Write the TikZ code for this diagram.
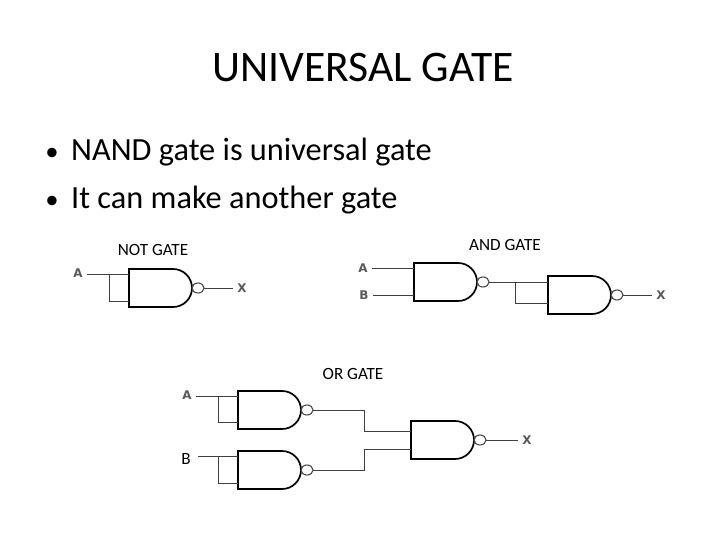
\documentclass[tikz,border=0pt]{standalone}
\usepackage{fontspec}
\setmainfont{Carlito}
\newfontfamily\pinfont{DejaVu Sans}
\usepackage{tikz}
\tikzset{gateline/.style={draw=black,line width=1.2pt},
  wire/.style={draw=black!75,line width=0.7pt},
  pinlabel/.style={font=\pinfont\bfseries\fontsize{8.5}{9}\selectfont,text=black!65,inner sep=3pt},
  gatelabel/.style={font=\fontsize{12.2}{14}\selectfont,inner sep=0pt},
  bulletline/.style={anchor=base west,font=\fontsize{23}{26}\selectfont,inner sep=0pt},
  pics/nandgate/.style 2 args={code={
    \draw[gateline] (44,-19) -- (0,-19) -- (0,19) -- (44,19) arc[start angle=-90,end angle=90,radius=0.475cm];
    \draw[draw=black!70,line width=0.8pt] (69,0) ellipse[x radius=0.15cm,y radius=0.125cm];
    \coordinate (-in1) at (0,#1);
    \coordinate (-in2) at (0,#2);
    \coordinate (-out) at (75,0);
  }}}

\begin{document}
\begin{tikzpicture}[x=0.025cm,y=-0.025cm]
\useasboundingbox (0,0) rectangle (728,546);

\node[font=\fontsize{31}{36}\selectfont,inner sep=0pt] (title) at (363,68) {UNIVERSAL GATE};
\node[bulletline] (bulleta) at (45,160) {{\fontsize{19}{22}\selectfont•}\hspace{0.39em}NAND gate is universal gate};
\node[bulletline] (bulletb) at (45,208) {{\fontsize{19}{22}\selectfont•}\hspace{0.39em}It can make another gate};

% not gate
\node[gatelabel] (notlabel) at (153,250) {NOT GATE};
\pic (notg) at (129,288) {nandgate={-14}{13}};
\node[pinlabel] (nota) at (78,273) {A};
\node[pinlabel] (notx) at (242,288) {X};
\coordinate (notfork) at (109,274);
\draw[wire] (nota.east |- notg-in1) -- (notg-in1);
\draw[wire] (notfork) |- (notg-in2);
\draw[wire] (notg-out) -- (notx.west |- notg-out);

% and gate
\node[gatelabel] (andlabel) at (505,245) {AND GATE};
\pic (andg) at (414,282) {nandgate={-14}{13}};
\pic (andh) at (548,295) {nandgate={-13}{8}};
\node[pinlabel] (anda) at (363,268) {A};
\node[pinlabel] (andb) at (364,295) {B};
\node[pinlabel] (andx) at (661,295) {X};
\coordinate (andfork) at (515,282);
\draw[wire] (anda.east |- andg-in1) -- (andg-in1);
\draw[wire] (andb.east |- andg-in2) -- (andg-in2);
\draw[wire] (andg-out) -- (andh-in1);
\draw[wire] (andfork) |- (andh-in2);
\draw[wire] (andh-out) -- (andx.west |- andh-out);

% or gate
\node[gatelabel] (orlabel) at (353,374) {OR GATE};
\pic (org) at (238,410) {nandgate={-14}{12}};
\pic (orh) at (238,470) {nandgate={-14}{13}};
\pic (ori) at (411,440) {nandgate={-9}{9}};
\node[pinlabel] (ora) at (187,395) {A};
\node[gatelabel,inner sep=5pt] (orb) at (186,459) {B};
\node[pinlabel] (orx) at (527,440) {X};
\coordinate (orforka) at (218,396);
\coordinate (orforkb) at (218,456);
\coordinate (orelba) at (364,410);
\coordinate (orelbb) at (364,470);
\draw[wire] (ora.east |- org-in1) -- (org-in1);
\draw[wire] (orforka) |- (org-in2);
\draw[wire] (orb.east |- orh-in1) -- (orh-in1);
\draw[wire] (orforkb) |- (orh-in2);
\draw[wire] (org-out) -- (orelba) |- (ori-in1);
\draw[wire] (orh-out) -- (orelbb) |- (ori-in2);
\draw[wire] (ori-out) -- (orx.west |- ori-out);

\end{tikzpicture}
\end{document}
